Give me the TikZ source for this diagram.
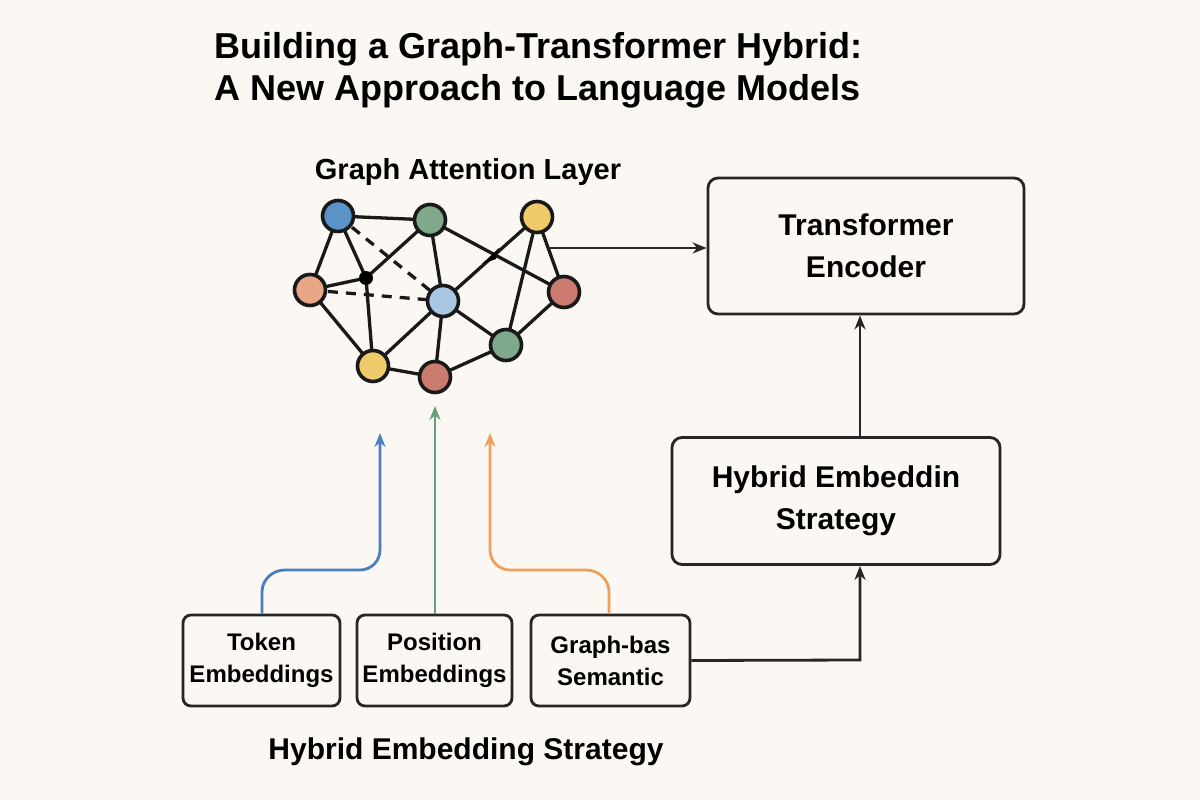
\documentclass[tikz,border=0pt]{standalone}
\usepackage{fontspec}
\setmainfont{Liberation Sans}
\usetikzlibrary{arrows.meta}
\definecolor{bg}{HTML}{FBF8F3}
\definecolor{cblue}{HTML}{5B93C9}
\definecolor{cgreen}{HTML}{7FA98A}
\definecolor{cyellow}{HTML}{EFCB6C}
\definecolor{corange}{HTML}{E8A885}
\definecolor{cred}{HTML}{CB7A6E}
\definecolor{clblue}{HTML}{A9C6E3}
\definecolor{ablue}{HTML}{4A7FBE}
\definecolor{agreen}{HTML}{6A9E78}
\definecolor{aorange}{HTML}{EE9F5E}
\begin{document}
\begin{tikzpicture}[x=1pt,y=-1pt,
  gn/.style={circle,draw=black!90,line width=3.6pt,minimum size=31pt,inner sep=0pt},
  box/.style={draw=black!85,line width=2.8pt,rounded corners=10pt,align=center,font=\fontsize{30}{42}\selectfont\bfseries},
  sbox/.style={draw=black!85,line width=2.8pt,rounded corners=8pt,align=center,font=\fontsize{24}{32}\selectfont\bfseries,inner sep=0pt},
  ed/.style={line width=3.3pt,black!90},
  arr/.style={line width=2.8pt,-{Stealth[length=14pt,width=11pt]}}]
\fill[bg] (0,0) rectangle (1200,800);
\useasboundingbox (0,0) rectangle (1200,800);
\node[anchor=west,align=left,font=\fontsize{36}{42}\selectfont\bfseries] (title) at (211,70) {Building a Graph-Transformer Hybrid:\\A New Approach to Language Models};
\node[font=\fontsize{29}{33}\selectfont\bfseries] (gal) at (468,172) {Graph Attention Layer};
% graph
\coordinate (j) at (366,278);
\draw[ed] (338,216) -- (430,220);
\draw[ed] (338,216) -- (310,290);
\draw[ed] (338,216) -- (j);
\draw[ed,dashed,dash pattern=on 10pt off 8pt] (338,216) -- (443,301);
\draw[ed] (430,220) -- (j);
\draw[ed] (430,220) -- (443,301);
\draw[ed] (430,220) -- (564,292);
\draw[ed] (537,217) -- (443,301);
\draw[ed] (537,217) -- (506,345);
\draw[ed] (537,217) -- (564,292);
\draw[ed] (310,290) -- (j);
\draw[ed,dashed,dash pattern=on 10pt off 8pt] (310,290) -- (443,301);
\draw[ed] (310,290) -- (373,366);
\draw[ed] (j) -- (373,366);
\draw[ed] (443,301) -- (373,366);
\draw[ed] (443,301) -- (435,377);
\draw[ed] (443,301) -- (506,345);
\draw[ed] (373,366) -- (435,377);
\draw[ed] (435,377) -- (506,345);
\draw[ed] (506,345) -- (564,292);
\fill[black] (j) circle (7pt);
\fill[black] (482,264) -- (499,248) -- (496,259) -- cycle;
\node[gn,fill=cblue] (n1) at (338,216) {};
\node[gn,fill=cgreen] (n2) at (430,220) {};
\node[gn,fill=cyellow] (n3) at (537,217) {};
\node[gn,fill=corange] (n4) at (310,290) {};
\node[gn,fill=clblue] (n5) at (443,301) {};
\node[gn,fill=cred] (n6) at (564,292) {};
\node[gn,fill=cyellow] (n7) at (373,366) {};
\node[gn,fill=cred] (n8) at (435,377) {};
\node[gn,fill=cgreen] (n9) at (506,345) {};
% boxes
\node[box,minimum width=316pt,minimum height=136pt] (te) at (866,246) {Transformer\\Encoder};
\node[box,minimum width=328pt,minimum height=127pt] (he) at (836,501) {Hybrid Embeddin\\Strategy};
\node[sbox,minimum width=157pt,minimum height=91pt] (tok) at (261.5,660.5) {Token\\Embeddings};
\node[sbox,minimum width=155pt,minimum height=91pt] (pos) at (434.5,660.5) {Position\\Embeddings};
\node[sbox,minimum width=159pt,minimum height=91pt] (gb) at (610.5,660.5) {Graph-bas\\Semantic};
\node[font=\fontsize{30}{34}\selectfont\bfseries] (hes) at (466,752) {Hybrid Embedding Strategy};
% arrows
\coordinate (ta) at (550,248);
\draw[arr,black!85] (ta) -- (te.west |- ta);
\draw[arr,black!85] (he.north -| 860,0) -- (te.south -| 860,0);
\draw[arr,black!85] (gb.east) -- (860,660) -- (he.south -| 860,0);
\draw[arr,ablue] (tok.north -| 262,0) -- (262,592) to[out=90,in=180] (285,570) -- (360,570) to[out=0,in=-90] (380,550) -- (380,433);
\draw[arr,agreen] (pos.north -| 435,0) -- (435,406);
\draw[arr,aorange] (gb.north -| 609,0) -- (609,592) to[out=90,in=0] (586,570) -- (510,570) to[out=180,in=-90] (490,550) -- (490,433);
\end{tikzpicture}
\end{document}
